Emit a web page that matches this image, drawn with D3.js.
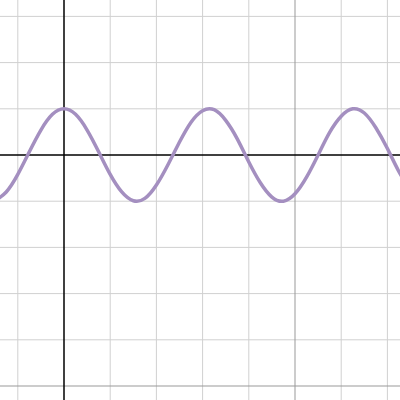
<!DOCTYPE html>
<html><head><meta charset="utf-8">
<script src="https://cdn.jsdelivr.net/npm/d3@7"></script>
<style>body{margin:0;background:#fff}svg{display:block}</style>
</head><body>
<svg id="c" width="400" height="400"></svg>
<script>
const xs = [-1.5,-1.25,-1,-0.75,-0.5,-0.25,0,0.25,0.5,0.75,1,1.25,1.5,1.75,2,2.25,2.5,2.75,3,3.25,3.5,3.75,4,4.25,4.5,4.75,5,5.25,5.5,5.75,6,6.25,6.5,6.75,7,7.25,7.5];
const ys = [-0.99,-0.80,-0.42,0.07,0.54,0.88,1,0.88,0.54,0.07,-0.42,-0.80,-0.99,-0.94,-0.65,-0.21,0.28,0.71,0.96,0.98,0.75,0.35,-0.15,-0.60,-0.91,-1.00,-0.84,-0.48,0.00,0.49,0.84,1.00,0.91,0.59,0.14,-0.36,-0.76];
const gridX = [-1,1,2,3,4,6,7];
const majorX = [5];
const gridY = [3,2,1,-1,-2,-3,-4];
const majorY = [-5];

const u = 46.2;
const x = d3.scaleLinear().domain([0,1]).range([64,64+u]);
const y = d3.scaleLinear().domain([0,1]).range([155,155-u]);
const svg = d3.select("#c");
svg.selectAll(".gx").data(gridX).join("line").attr("x1",d=>x(d)).attr("x2",d=>x(d)).attr("y1",0).attr("y2",400).attr("stroke","#d0d0d0").attr("stroke-width",1);
svg.selectAll(".gy").data(gridY).join("line").attr("y1",d=>y(d)).attr("y2",d=>y(d)).attr("x1",0).attr("x2",400).attr("stroke","#d0d0d0").attr("stroke-width",1);
svg.selectAll(".mx").data(majorX).join("line").attr("x1",d=>x(d)).attr("x2",d=>x(d)).attr("y1",0).attr("y2",400).attr("stroke","#999").attr("stroke-width",1);
svg.selectAll(".my").data(majorY).join("line").attr("y1",d=>y(d)).attr("y2",d=>y(d)).attr("x1",0).attr("x2",400).attr("stroke","#999").attr("stroke-width",1);
svg.append("line").attr("x1",x(0)).attr("x2",x(0)).attr("y1",0).attr("y2",400).attr("stroke","#000").attr("stroke-width",1.5);
svg.append("line").attr("y1",y(0)).attr("y2",y(0)).attr("x1",0).attr("x2",400).attr("stroke","#000").attr("stroke-width",1.5);
const pts = xs.map((v,i)=>[v,ys[i]]);
svg.append("path").datum(pts).attr("fill","none").attr("stroke","#a48fc0").attr("stroke-width",3.5)
  .attr("d",d3.line().x(d=>x(d[0])).y(d=>y(d[1])).curve(d3.curveNatural));
</script>
</body></html>
